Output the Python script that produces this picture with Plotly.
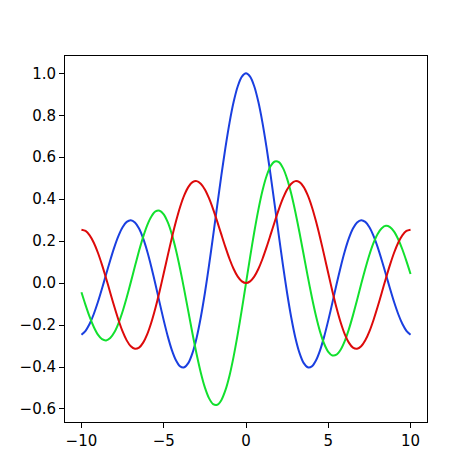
import plotly.graph_objects as go

# x positions, step 0.25 from -10 to 10
x = [i * 0.25 for i in range(-40, 41)]

# values (right half, x = 0 .. 10 in steps of 0.25)
blue_half = [1.0, 0.9842, 0.9385, 0.8640, 0.7652, 0.6458, 0.5118, 0.3690, 0.2239, 0.0829,
             -0.0484, -0.1639, -0.2601, -0.3325, -0.3801, -0.4011, -0.3971, -0.3690, -0.3205, -0.2550,
             -0.1776, -0.0931, -0.0068, 0.0758, 0.1506, 0.2129, 0.2601, 0.2892, 0.3001, 0.2918,
             0.2663, 0.2251, 0.1717, 0.1092, 0.0419, -0.0259, -0.0903, -0.1472, -0.1939, -0.2271,
             -0.2459]
green_half = [0.0, 0.1240, 0.2423, 0.3491, 0.4401, 0.5104, 0.5579, 0.5799, 0.5767, 0.5481,
              0.4971, 0.4258, 0.3391, 0.2411, 0.1374, 0.0334, -0.0660, -0.1554, -0.2311, -0.2890,
              -0.3276, -0.3448, -0.3414, -0.3177, -0.2767, -0.2206, -0.1538, -0.0803, -0.0047, 0.0684,
              0.1352, 0.1914, 0.2346, 0.2620, 0.2731, 0.2670, 0.2453, 0.2090, 0.1613, 0.1048,
              0.0435]
red_half = [0.0, 0.0080, 0.0306, 0.0672, 0.1149, 0.1712, 0.2321, 0.2940, 0.3528, 0.4046,
            0.4461, 0.4738, 0.4861, 0.4809, 0.4586, 0.4189, 0.3641, 0.2958, 0.2178, 0.1333,
            0.0466, -0.0383, -0.1173, -0.1864, -0.2429, -0.2835, -0.3074, -0.3130, -0.3014, -0.2729,
            -0.2303, -0.1757, -0.1130, -0.0457, 0.0223, 0.0869, 0.1448, 0.1925, 0.2279, 0.2486,
            0.2546]

# full curves: blue and red mirror about x=0, green is mirrored with sign flipped
blue = blue_half[:0:-1] + blue_half
green = [-v for v in green_half[:0:-1]] + green_half
red = red_half[:0:-1] + red_half

x_ticks = [-10, -5, 0, 5, 10]
y_ticks = [-0.6, -0.4, -0.2, 0.0, 0.2, 0.4, 0.6, 0.8, 1.0]
y_labels = ['\u22120.6', '\u22120.4', '\u22120.2', '0.0', '0.2', '0.4', '0.6', '0.8', '1.0']
x_labels = ['\u221210', '\u22125', '0', '5', '10']

fig = go.Figure()
for ys, col in [(blue, '#1a3fe0'), (green, '#12e02e'), (red, '#dd0a0a')]:
    fig.add_trace(go.Scatter(x=x, y=ys, mode='lines',
                             line=dict(color=col, width=2, shape='spline', smoothing=0.8),
                             showlegend=False))

axis_common = dict(showgrid=False, zeroline=False, showline=True, mirror=True,
                   linecolor='black', linewidth=1, ticks='outside', ticklen=5,
                   tickcolor='black', tickfont=dict(size=15, color='black'))
# page body adds an 8px offset, so the figure is 8px smaller and shifted margins
fig.update_layout(
    width=466, height=466,
    margin=dict(l=51, r=47, t=48, b=52),
    plot_bgcolor='white', paper_bgcolor='white',
    font=dict(family='DejaVu Sans', color='black'),
    xaxis=dict(range=[-11, 11], tickvals=x_ticks, ticktext=x_labels, **axis_common),
    yaxis=dict(range=[-0.662, 1.0825], tickvals=y_ticks, ticktext=y_labels, **axis_common),
)
fig.write_html("out.html")
